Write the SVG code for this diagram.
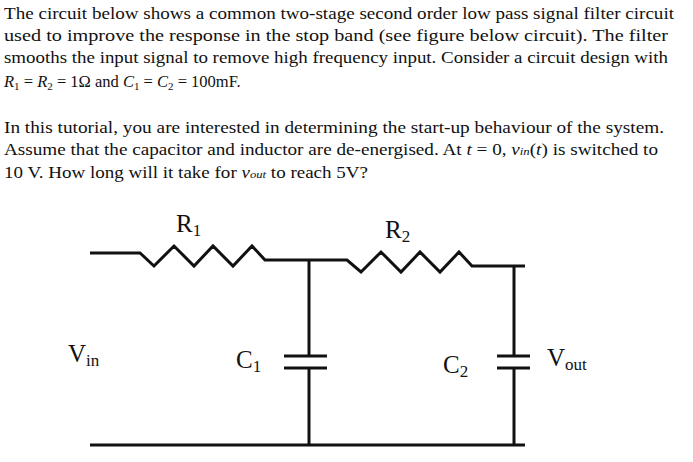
<svg xmlns="http://www.w3.org/2000/svg" width="693" height="462" viewBox="0 0 693 462">
<style>
.t{font-family:"Liberation Serif",serif;font-size:16.5px;fill:#111}
.i{font-style:italic}
.l{font-family:"Liberation Serif",serif;font-size:25px;fill:#111}
.s{font-size:17px}
.w{fill:none;stroke:#111;stroke-width:3;stroke-linejoin:miter}
</style>
<rect width="693" height="462" fill="#fff"/>
<g id="text">
<text class="t" x="4" y="19" textLength="670" lengthAdjust="spacingAndGlyphs">The circuit below shows a common two-stage second order low pass signal filter circuit</text>
<text class="t" x="4" y="41" textLength="664" lengthAdjust="spacingAndGlyphs">used to improve the response in the stop band (see figure below circuit). The filter</text>
<text class="t" x="4" y="63" textLength="664" lengthAdjust="spacingAndGlyphs">smooths the input signal to remove high frequency input. Consider a circuit design with</text>
<text class="t" x="4" y="87"><tspan class="i">R</tspan><tspan font-size="11" dy="3">1</tspan><tspan dy="-3"> = </tspan><tspan class="i">R</tspan><tspan font-size="11" dy="3">2</tspan><tspan dy="-3"> = 1Ω and </tspan><tspan class="i">C</tspan><tspan font-size="11" dy="3">1</tspan><tspan dy="-3"> = </tspan><tspan class="i">C</tspan><tspan font-size="11" dy="3">2</tspan><tspan dy="-3"> = 100mF.</tspan></text>
<text class="t" x="4" y="133" textLength="660" lengthAdjust="spacingAndGlyphs">In this tutorial, you are interested in determining the start-up behaviour of the system.</text>
<text class="t" x="4" y="155" textLength="654" lengthAdjust="spacingAndGlyphs">Assume that the capacitor and inductor are de-energised. At <tspan class="i">t</tspan> = 0, <tspan class="i">v</tspan><tspan class="i" font-size="11">in</tspan>(<tspan class="i">t</tspan>) is switched to</text>
<text class="t" x="4" y="178" textLength="364" lengthAdjust="spacingAndGlyphs">10 V. How long will it take for <tspan class="i">v</tspan><tspan class="i" font-size="11">out</tspan> to reach 5V?</text>
</g>
<g id="connectors">
<polyline class="w" points="90,253 140,253 154,266 174,246 194,266 213,246 233,266 252,246 265,260 347,260 361,272 381,252 401,272 420,252 440,272 459,252 472,266 525,266"/>
<line class="w" x1="309" y1="260" x2="309" y2="356"/>
<line class="w" x1="309" y1="368" x2="309" y2="445"/>
<line class="w" x1="514" y1="266" x2="514" y2="356"/>
<line class="w" x1="514" y1="368" x2="514" y2="445"/>
<line class="w" x1="90" y1="445" x2="525" y2="445"/>
</g>
<g id="C1"><line class="w" x1="284" y1="356" x2="327" y2="356"/><line class="w" x1="284" y1="368" x2="327" y2="368"/></g>
<g id="C2"><line class="w" x1="497" y1="356" x2="530" y2="356"/><line class="w" x1="497" y1="368" x2="530" y2="368"/></g>
<g id="labels">
<text class="l" x="176" y="232">R<tspan class="s" dy="4">1</tspan></text>
<text class="l" x="385" y="238">R<tspan class="s" dy="4">2</tspan></text>
<text class="l" x="68" y="362">V<tspan class="s" dy="4">in</tspan></text>
<text class="l" x="236" y="368">C<tspan class="s" dy="4">1</tspan></text>
<text class="l" x="443" y="373">C<tspan class="s" dy="4">2</tspan></text>
<text class="l" x="547" y="366">V<tspan class="s" dy="4">out</tspan></text>
</g>
</svg>
